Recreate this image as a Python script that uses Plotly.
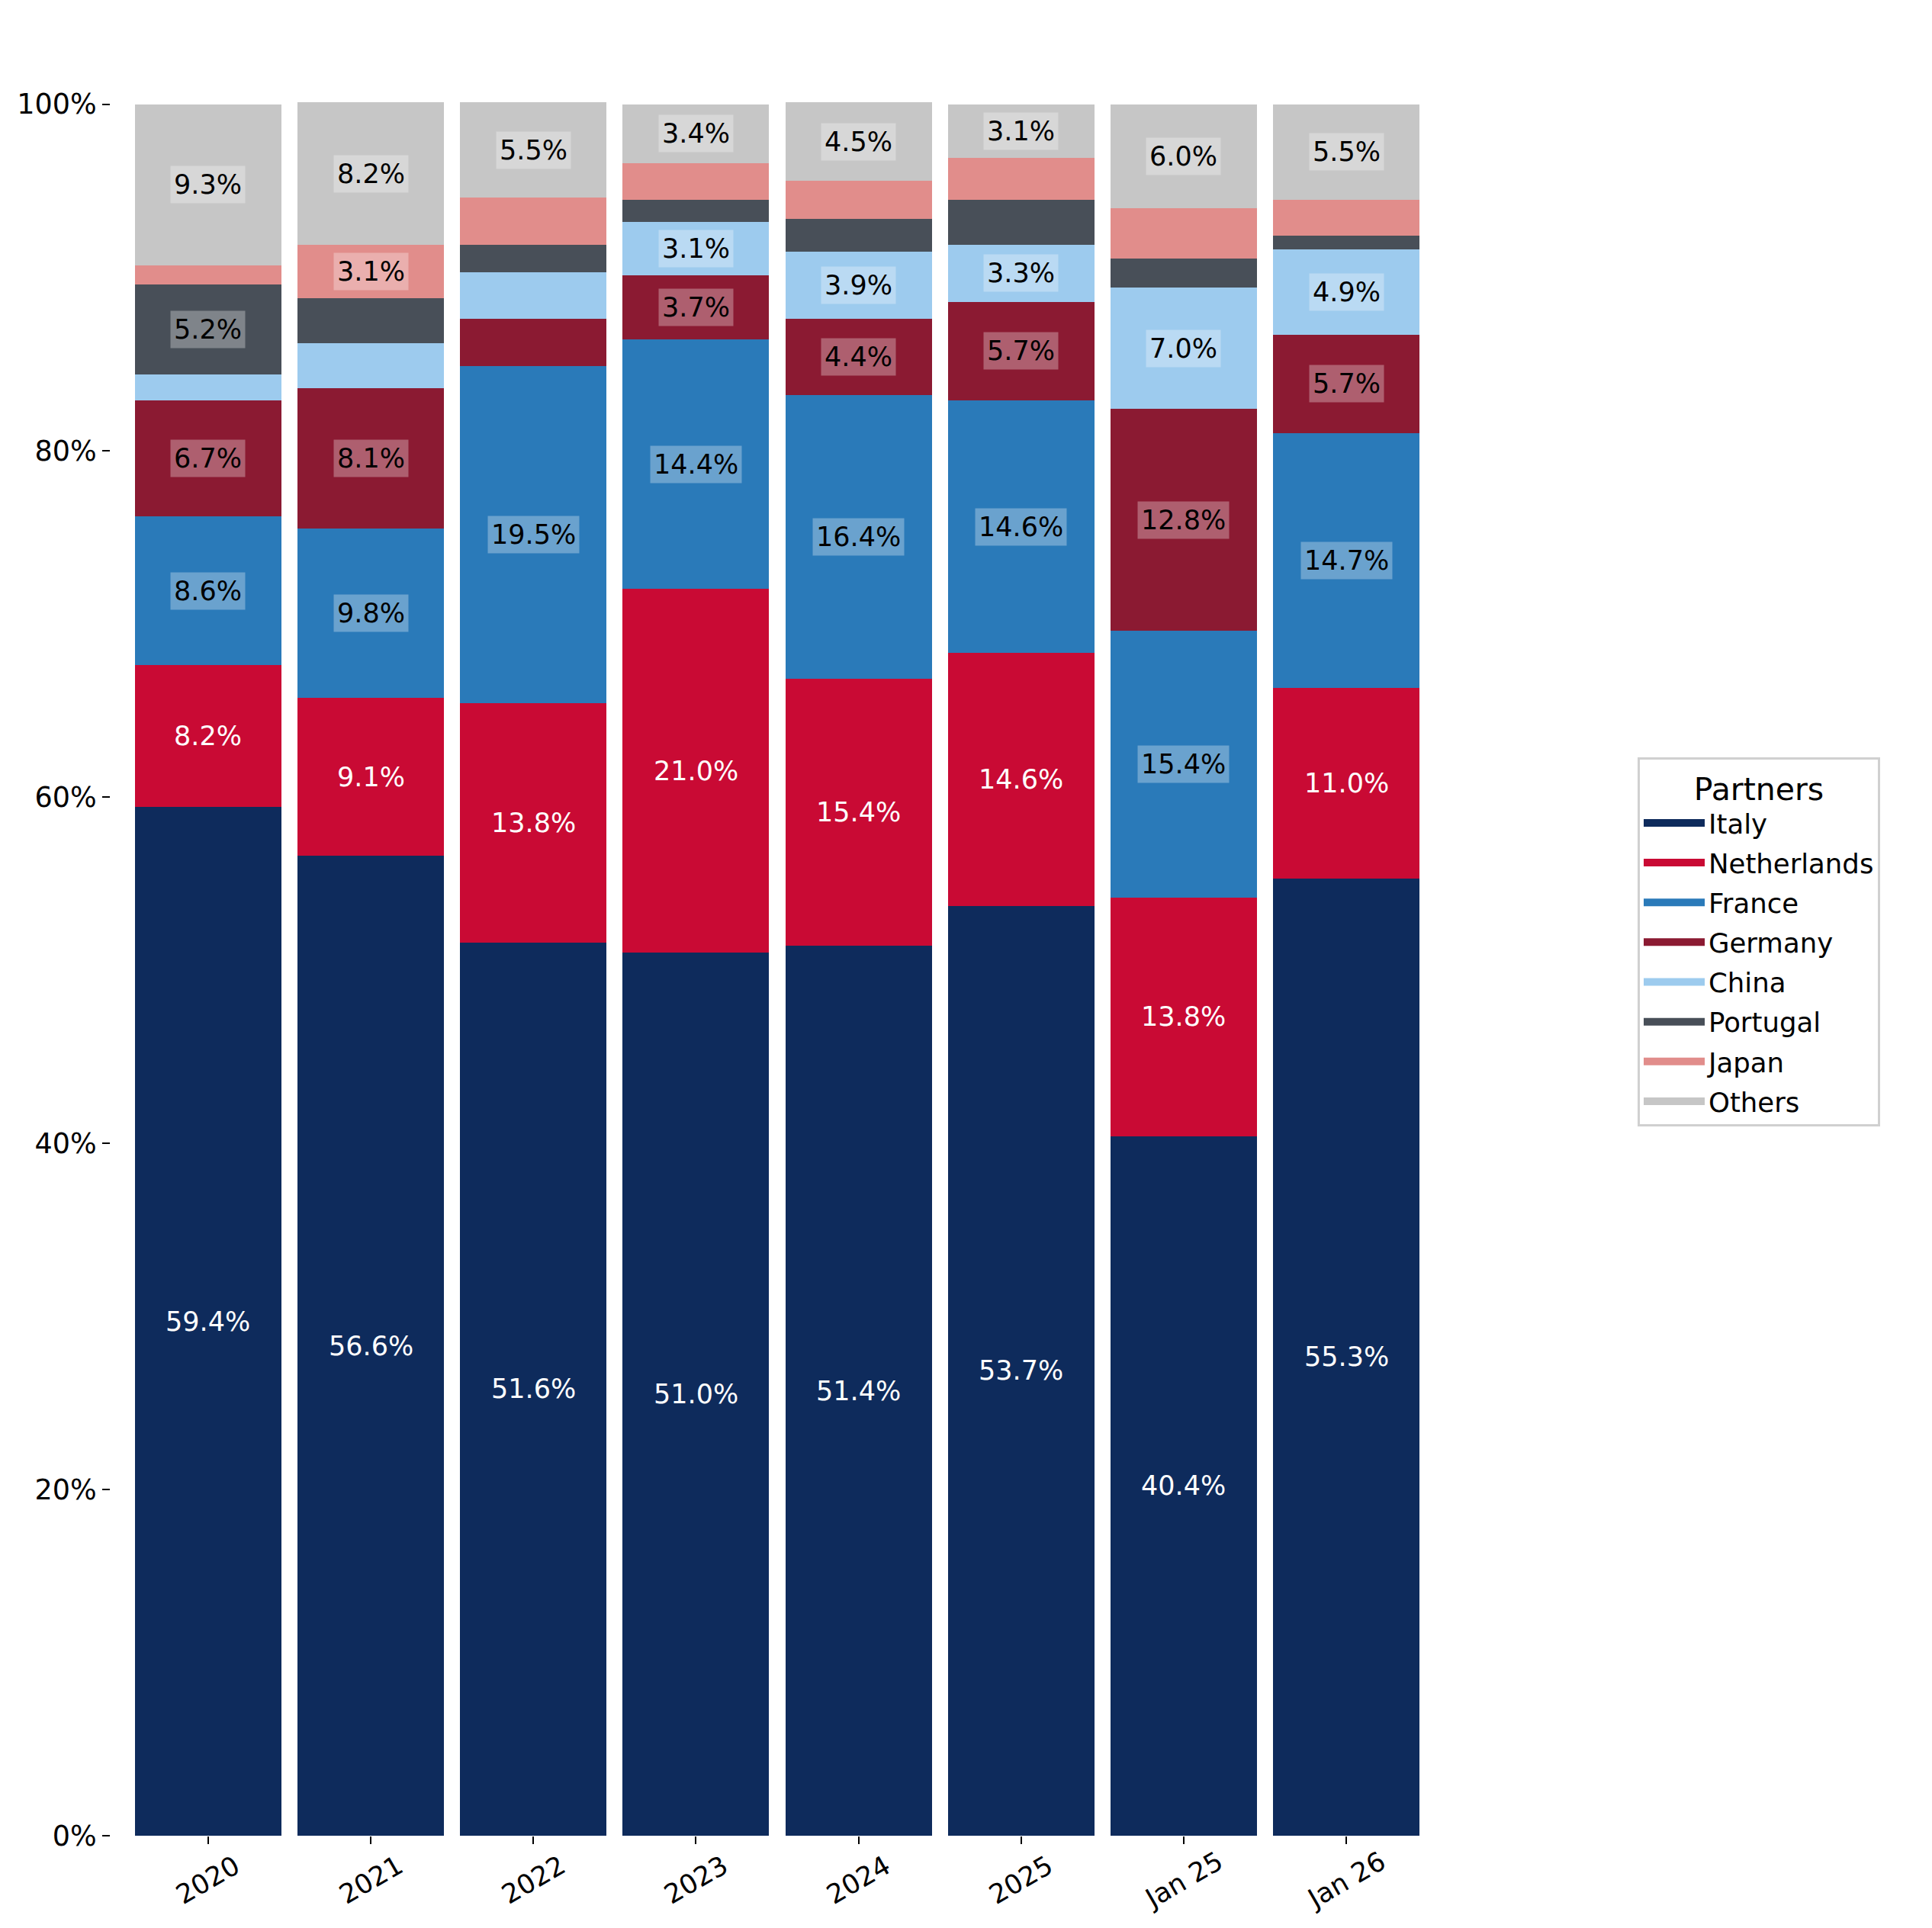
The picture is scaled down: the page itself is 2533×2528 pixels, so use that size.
import plotly.graph_objects as go
import numpy as np

categories = ["2020", "2021", "2022", "2023", "2024", "2025", "Jan 25", "Jan 26"]
partners = ["Italy", "Netherlands", "France", "Germany", "China", "Portugal", "Japan", "Others"]

italy = [59.4, 56.6, 51.6, 51.0, 51.4, 53.7, 40.4, 55.3]
netherlands = [8.2, 9.1, 13.8, 21.0, 15.4, 14.6, 13.8, 11.0]
france = [8.6, 9.8, 19.5, 14.4, 16.4, 14.6, 15.4, 14.7]
germany = [6.7, 8.1, 2.7, 3.7, 4.4, 5.7, 12.8, 5.7]
china = [1.5, 2.6, 2.7, 3.1, 3.9, 3.3, 7.0, 4.9]
portugal = [5.2, 2.6, 1.6, 1.3, 1.9, 2.6, 1.7, 0.8]
japan = [1.1, 3.1, 2.7, 2.1, 2.2, 2.4, 2.9, 2.1]
others = [9.3, 8.2, 5.5, 3.4, 4.5, 3.1, 6.0, 5.5]

y_tick_values = [0, 20, 40, 60, 80, 100]
y_tick_labels = ["0%", "20%", "40%", "60%", "80%", "100%"]

series = [italy, netherlands, france, germany, china, portugal, japan, others]
colors = ["#0e2b5c", "#c90a34", "#2a7ab9", "#8b1a32", "#9dcbee", "#484f58", "#e18d8b", "#c6c6c6"]
label_threshold = 3.0

FONT = "DejaVu Sans"
W, H = 2533, 2528
ML, MR, MT, MB = 145, 640, 114, 121

xpos = list(range(len(categories)))

fig = go.Figure()
for name, vals, col in zip(partners, series, colors):
    fig.add_trace(go.Bar(
        x=xpos, y=vals, name=name, legendgroup=name,
        marker=dict(color=col, line=dict(width=0)),
        showlegend=False, hoverinfo="name+y", width=0.9,
    ))
# legend entries as wide swatches
for name, col in zip(partners, colors):
    fig.add_trace(go.Scatter(
        x=[None], y=[None], mode="lines", name=name, legendgroup=name,
        line=dict(color=col, width=25), showlegend=True, hoverinfo="skip",
    ))

annotations = []
base = np.zeros(len(categories))
for idx, (name, vals) in enumerate(zip(partners, series)):
    vals = np.array(vals)
    for i in xpos:
        v = vals[i]
        if v >= label_threshold:
            mid = base[i] + v / 2
            if idx < 2:
                annotations.append(dict(
                    x=i, y=mid, xref="x", yref="y", text=f"{v:.1f}%", showarrow=False,
                    font=dict(family=FONT, size=35, color="white"),
                ))
            else:
                annotations.append(dict(
                    x=i, y=mid, xref="x", yref="y", text=f"{v:.1f}%", showarrow=False,
                    font=dict(family=FONT, size=35, color="black"),
                    bgcolor="rgba(255,255,255,0.3)", borderpad=4,
                ))
    base += vals

# rotated category labels centred under each tick
for i, cat in zip(xpos, categories):
    annotations.append(dict(
        x=i, y=0, xref="x", yref="paper", yshift=-58, text=cat, showarrow=False,
        textangle=-30, xanchor="center", yanchor="middle",
        font=dict(family=FONT, size=35, color="black"),
    ))

fig.update_layout(
    width=W, height=H,
    margin=dict(l=ML, r=MR, t=MT, b=MB, pad=0),
    barmode="stack",
    plot_bgcolor="white", paper_bgcolor="white",
    font=dict(family=FONT, size=35, color="black"),
    xaxis=dict(
        range=[-0.6, 7.6], tickvals=xpos, ticktext=categories,
        showgrid=False, zeroline=False, showline=False,
        ticks="outside", ticklen=10, tickwidth=2, tickcolor="black", showticklabels=False,
    ),
    yaxis=dict(
        range=[0, 101], tickvals=y_tick_values, ticktext=y_tick_labels,
        showgrid=False, zeroline=False, showline=False,
        ticks="outside", ticklen=10, tickwidth=2, tickcolor="black",
        tickfont=dict(family=FONT, size=36.5, color="black"),
    ),
    legend=dict(
        x=(2147 - ML) / (W - ML - MR), y=(H - MB - 993) / (H - MT - MB),
        xanchor="left", yanchor="top", traceorder="grouped",
        title=dict(text="Partners", side="top center", font=dict(family=FONT, size=41)),
        font=dict(family=FONT, size=35.5), bordercolor="#d0d0d0", borderwidth=3,
        bgcolor="white", itemwidth=80, tracegroupgap=3,
    ),
    annotations=annotations,
)

fig.write_html("out.html")
